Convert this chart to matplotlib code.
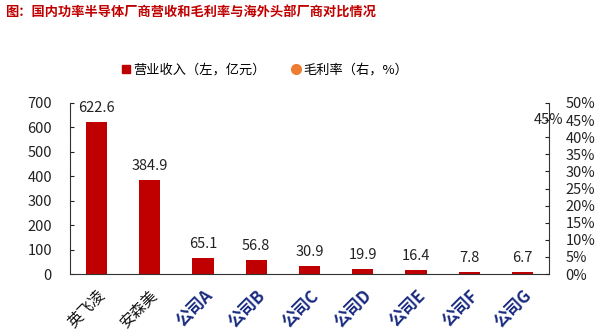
import matplotlib
matplotlib.use("Agg")
import matplotlib.pyplot as plt
from matplotlib.lines import Line2D

plt.rcParams['font.family'] = ['Noto Sans CJK SC', 'DejaVu Sans']

categories = ["英飞凌", "安森美", "公司A", "公司B", "公司C", "公司D", "公司E", "公司F", "公司G"]
revenue = [622.6, 384.9, 65.1, 56.8, 30.9, 19.9, 16.4, 7.8, 6.7]
margin_label_value = 45
left_ticks = [0, 100, 200, 300, 400, 500, 600, 700]
right_ticks = [0, 5, 10, 15, 20, 25, 30, 35, 40, 45, 50]

bar_color = "#C00000"
fig = plt.figure(figsize=(6.13, 3.30), dpi=100)
ax = fig.add_axes([70/613, 1-274/330, (549-70)/613, (274-103)/330])
x = list(range(len(categories)))
ax.bar(x, revenue, width=0.4, color=bar_color, zorder=2)
for xi, v in zip(x, revenue):
    ax.text(xi, v + 30, f"{v:.1f}", ha="center", va="bottom", fontsize=10.5, color="#222222")
ax.set_xlim(-0.5, len(categories) - 0.5)
ax.set_ylim(0, 700)
ax.set_yticks(left_ticks)
ax.tick_params(axis='y', direction='in', length=3, labelsize=10.5, pad=13, colors='#222222')
ax.tick_params(axis='x', length=0, pad=9)
ax.set_xticks(x)
ax.set_xticklabels(categories)
for i, lbl in enumerate(ax.get_xticklabels()):
    lbl.set_rotation(45)
    lbl.set_ha('right')
    lbl.set_rotation_mode('anchor')
    if i < 2:
        lbl.set_fontsize(11)
        lbl.set_color('#111111')
    else:
        lbl.set_fontsize(12)
        lbl.set_fontweight('bold')
        lbl.set_color('#1A2C80')
ax.spines['top'].set_visible(False)
ax.spines['right'].set_visible(False)
ax.spines['left'].set_color('#333333')
ax.spines['bottom'].set_color('#333333')

ax2 = ax.twinx()
ax2.set_ylim(0, 50)
ax2.set_yticks(right_ticks)
ax2.set_yticklabels([f"{t}%" for t in right_ticks])
ax2.tick_params(axis='y', direction='in', length=3, labelsize=10.5, pad=12, colors='#222222')
for s in ['top', 'left', 'bottom']:
    ax2.spines[s].set_visible(False)
ax2.spines['right'].set_color('#333333')
ax2.text(8.5, margin_label_value, f"{margin_label_value}%", ha="center", va="center",
         fontsize=10.5, color="#222222")

fig.text(0.008, 1-13/330, "图：国内功率半导体厂商营收和毛利率与海外头部厂商对比情况",
         fontsize=9.5, fontweight='bold', color='#C00000', ha='left', va='center')

handles = [Line2D([0], [0], marker='s', color='none', markerfacecolor=bar_color, markeredgecolor=bar_color, markersize=6),
           Line2D([0], [0], marker='o', color='none', markerfacecolor='#ED7D31', markeredgecolor='#ED7D31', markersize=7)]
fig.legend(handles, ["营业收入（左，亿元）", "毛利率（右，%）"], loc='center', bbox_to_anchor=(0.43, 1-70/330),
           ncol=2, frameon=False, fontsize=9.5, handletextpad=0.05, columnspacing=1.8, handlelength=1)

fig.savefig("out.png", dpi=100)
